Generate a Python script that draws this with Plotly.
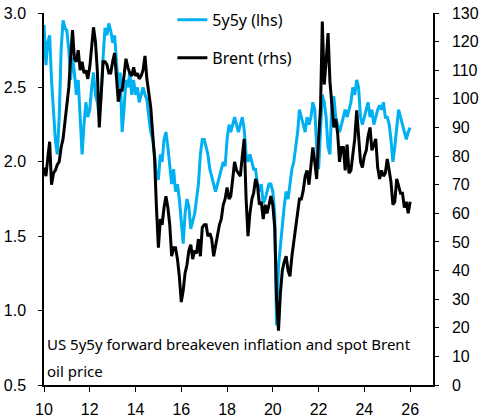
import pandas as pd
import plotly.graph_objects as go

# monthly readings, Jan 2010 .. Jan 2026
months = pd.date_range("2010-01-01", "2026-01-01", freq="MS")

# US 5y5y forward breakeven inflation, % (lhs)
fwd_5y5y = [
    2.92, 2.65, 2.80, 2.85, 2.55, 2.30, 2.15, 2.05, 2.30, 2.75, 2.95, 2.90,  # 2010
    2.88, 2.75, 2.55, 2.70, 2.60, 2.45, 2.55, 2.30, 2.05, 2.25, 2.40, 2.30,  # 2011
    2.35, 2.50, 2.60, 2.45, 2.40, 2.30, 2.45, 2.70, 2.90, 2.85, 2.93, 2.88,  # 2012
    2.80, 2.85, 2.70, 2.50, 2.60, 2.20, 2.35, 2.55, 2.50, 2.60, 2.45, 2.55,  # 2013
    2.45, 2.50, 2.40, 2.45, 2.50, 2.45, 2.42, 2.30, 2.20, 2.15, 2.05, 1.90,  # 2014
    1.88, 2.05, 2.00, 2.15, 2.20, 2.10, 1.95, 1.85, 1.95, 1.80, 1.85, 1.75,  # 2015
    1.60, 1.45, 1.65, 1.75, 1.70, 1.55, 1.60, 1.65, 1.75, 1.85, 2.05, 2.15,  # 2016
    2.15, 2.10, 2.05, 1.95, 1.90, 1.85, 1.80, 1.85, 1.90, 1.95, 2.00, 1.97,  # 2017
    2.15, 2.25, 2.20, 2.25, 2.30, 2.25, 2.20, 2.25, 2.30, 2.22, 2.05, 2.00,  # 2018
    2.05, 2.00, 1.95, 1.95, 1.85, 1.80, 1.85, 1.72, 1.75, 1.80, 1.85, 1.85,  # 2019
    1.80, 1.65, 0.90, 1.30, 1.45, 1.55, 1.70, 1.80, 1.75, 1.85, 1.95, 2.00,  # 2020
    2.10, 2.20, 2.35, 2.30, 2.25, 2.20, 2.30, 2.25, 2.30, 2.40, 2.35, 2.10,  # 2021
    1.95, 2.25, 2.45, 2.40, 2.30, 2.10, 2.05, 2.40, 2.44, 2.30, 2.25, 2.20,  # 2022
    2.25, 2.30, 2.35, 2.30, 2.35, 2.40, 2.50, 2.45, 2.55, 2.50, 2.30, 2.25,  # 2023
    2.30, 2.35, 2.40, 2.30, 2.35, 2.25, 2.30, 2.35, 2.38, 2.35, 2.40, 2.30,  # 2024
    2.30, 2.25, 2.15, 2.00, 2.10, 2.25, 2.35, 2.30, 2.25, 2.20, 2.15, 2.20,  # 2025
    2.23,                                                                    # 2026
]

# spot Brent, $/bbl (rhs)
brent = [
    76, 73, 79, 85, 70, 74, 75, 77, 78, 83, 86, 92,          # 2010
    96, 104, 114, 124, 114, 113, 117, 110, 113, 109, 110, 107,  # 2011
    111, 119, 125, 120, 110, 90, 103, 113, 113, 112, 109, 109,  # 2012
    113, 116, 108, 99, 103, 103, 108, 114, 111, 109, 108, 111,  # 2013
    108, 109, 107, 108, 110, 115, 107, 102, 97, 88, 79, 62,     # 2014
    48, 58, 56, 62, 66, 62, 56, 45, 48, 48, 44, 38,             # 2015
    29, 33, 39, 42, 47, 49, 44, 47, 46, 51, 45, 55,             # 2016
    56, 56, 52, 53, 51, 45, 49, 52, 56, 58, 63, 65,             # 2017
    69, 65, 66, 72, 78, 75, 74, 73, 80, 86, 65, 52,             # 2018
    60, 65, 67, 72, 70, 63, 64, 58, 63, 60, 63, 66,             # 2019
    63, 55, 30, 19, 32, 40, 43, 45, 40, 38, 45, 50,             # 2020
    55, 62, 65, 65, 68, 73, 75, 70, 76, 83, 78, 72,             # 2021
    86, 97, 127, 105, 113, 123, 106, 98, 90, 93, 88, 78,        # 2022
    83, 83, 75, 84, 74, 75, 80, 86, 96, 88, 78, 76,             # 2023
    80, 82, 87, 90, 82, 84, 86, 76, 72, 75, 73, 74,             # 2024
    79, 75, 71, 63, 64, 72, 69, 67, 67, 62, 64, 60,             # 2025
    64,                                                      # 2026
]

caption_lines = ["US 5y5y forward breakeven inflation and spot Brent", "oil price"]
x_ticks = pd.date_range("2010-01-01", "2026-01-01", freq="24MS")

BLUE = "#00B0F0"
TICK_FONT = dict(family="Liberation Sans, Arial, sans-serif", size=16, color="#000")
TEXT_FONT = dict(family="Noto Sans, sans-serif", size=15, color="#000")

fig = go.Figure()
fig.add_trace(go.Scatter(x=months, y=fwd_5y5y, mode="lines", name="5y5y (lhs)",
                         legendgroup="a", line=dict(color=BLUE, width=3)))
fig.add_trace(go.Scatter(x=months, y=brent, mode="lines", name="Brent (rhs)",
                         legendgroup="b", yaxis="y2", line=dict(color="#000", width=3)))

fig.update_layout(
    width=486, height=420,
    margin=dict(l=44, r=53, t=13, b=35, autoexpand=False),
    paper_bgcolor="white", plot_bgcolor="white",
    showlegend=True,
    legend=dict(x=0.33, y=1.027, xanchor="left", yanchor="top",
                bgcolor="rgba(0,0,0,0)", tracegroupgap=14,
                font=dict(family="Noto Sans, sans-serif", size=16, color="#000")),
    xaxis=dict(range=["2010-01-01", "2027-01-01"], tickvals=x_ticks, tickformat="%y",
               showgrid=False, zeroline=False, showline=True, linecolor="#000",
               linewidth=1.5, ticks="outside", ticklen=5, tickcolor="#000",
               ticklabelstandoff=4, tickfont=TICK_FONT),
    yaxis=dict(range=[0.5, 3.0], dtick=0.5, tickformat=".1f", showgrid=False,
               zeroline=False, showline=True, linecolor="#000", linewidth=1.5,
               ticks="outside", ticklen=4, tickcolor="#000",
               ticklabelstandoff=9, ticklabeloverflow="allow", tickfont=TICK_FONT),
    yaxis2=dict(range=[0, 130], dtick=10, overlaying="y", side="right",
                showgrid=False, zeroline=False, showline=True, linecolor="#000",
                linewidth=1.5, ticks="outside", ticklen=4, tickcolor="#000",
                ticklabelstandoff=10, ticklabeloverflow="allow", tickfont=TICK_FONT),
)

for line, ypos in zip(caption_lines, [0.11, 0.038]):
    fig.add_annotation(text=line, xref="paper", yref="paper", x=0.003, y=ypos,
                       xanchor="left", yanchor="middle", align="left",
                       showarrow=False, font=TEXT_FONT)

# drop the default 8px body margin so the figure sits at the window corner
fig.write_html("out.html", config={"displayModeBar": False},
               post_script="document.body.style.margin = '0px';")
